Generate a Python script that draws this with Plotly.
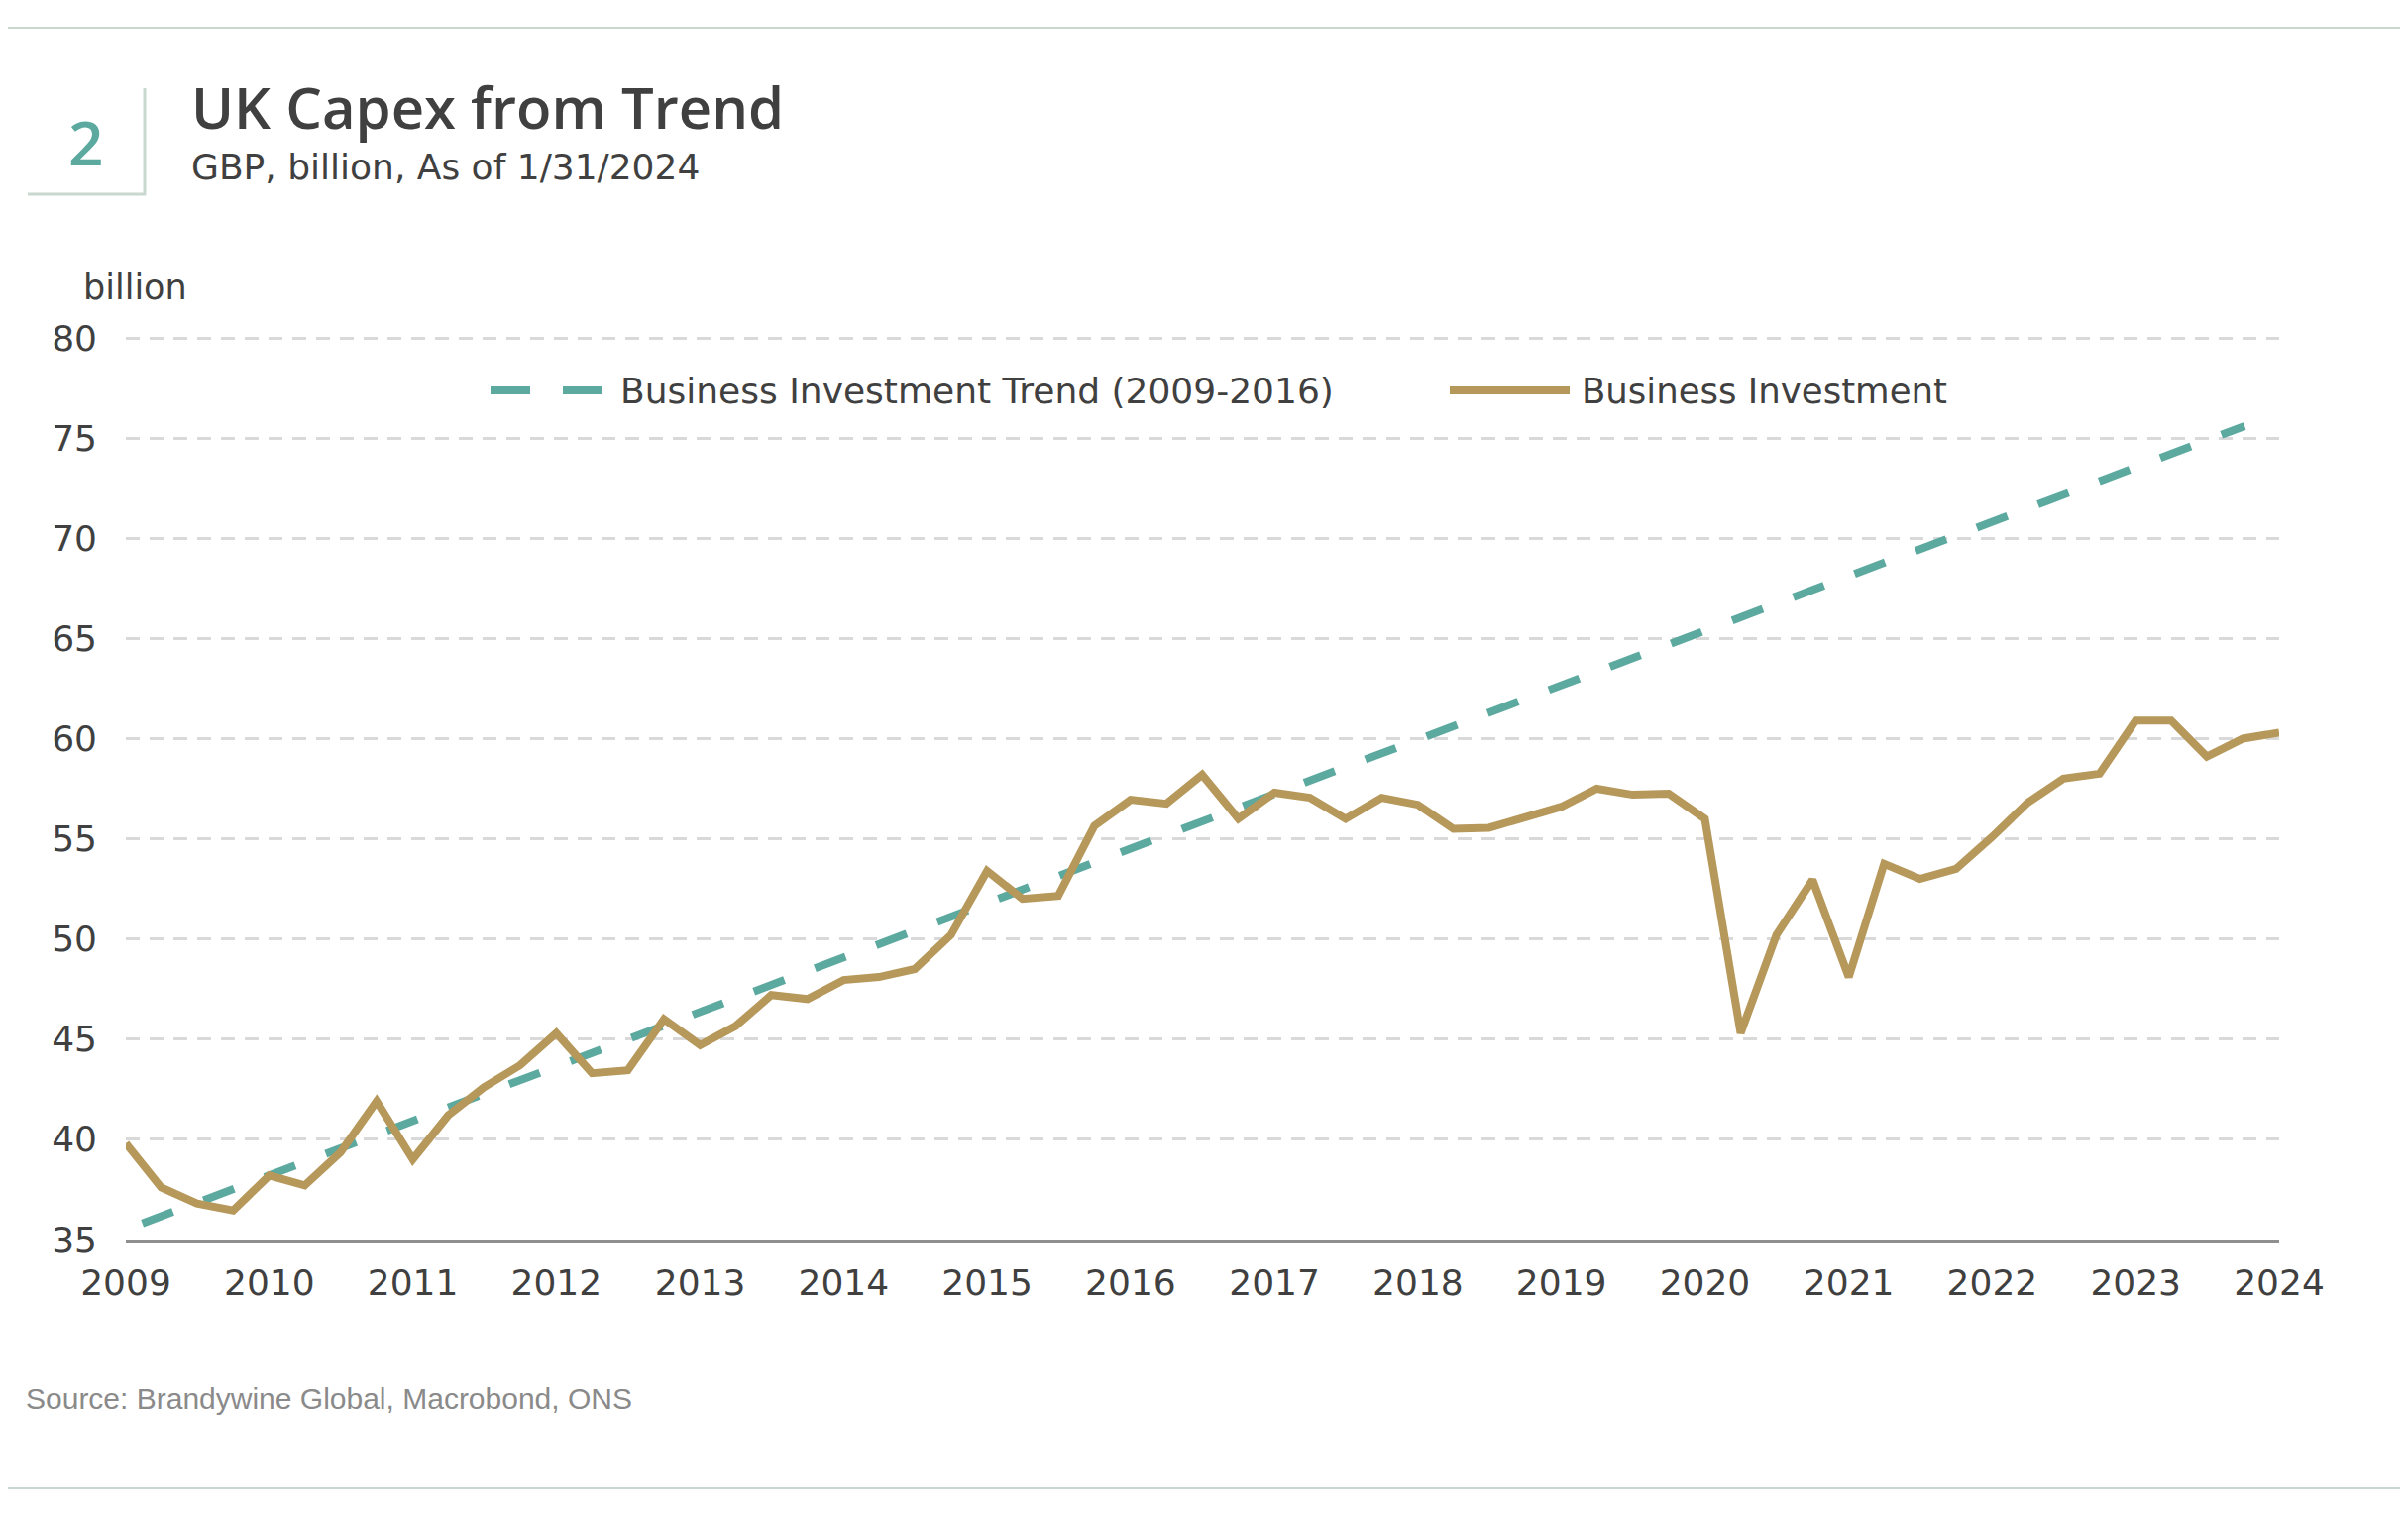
import plotly.graph_objects as go
import pandas as pd

# ---------------- data ----------------
quarters = pd.date_range("2009-01-01", "2024-01-01", freq="QS").strftime("%Y-%m-%d").tolist()
business_investment = [
    39.8, 37.6, 36.8, 36.45,
    38.2, 37.7, 39.35, 41.9,
    39.0, 41.2, 42.6, 43.7,
    45.3, 43.3, 43.45, 46.0,
    44.7, 45.65, 47.2, 47.0,
    47.95, 48.1, 48.5, 50.2,
    53.4, 52.0, 52.15, 55.65,
    56.95, 56.75, 58.2, 56.0,
    57.3, 57.05, 56.0, 57.05,
    56.7, 55.5, 55.55, 56.05,
    56.6, 57.5, 57.2, 57.25,
    56.0, 45.3, 50.2, 52.95,
    48.1, 53.75, 53.0, 53.5,
    55.1, 56.8, 58.0, 58.25,
    60.9, 60.9, 59.1, 60.0,
    60.3,
]
trend_dates = ["2009-02-12", "2023-10-05"]
trend_values = [35.8, 75.6]

year_labels = [str(y) for y in range(2009, 2025)]
year_ticks = [f"{y}-01-01" for y in year_labels]
y_ticks = [35, 40, 45, 50, 55, 60, 65, 70, 75, 80]

TEAL = "#5ca99f"
GOLD = "#b6985b"
TEXT = "#404040"
FRAME = "#c9d8cf"
FONT = "DejaVu Sans"
TITLE_FONT = "Open Sans"

# ---------------- layout geometry (reference pixels) ----------------
W, H = 2430, 1528
L, R, T, B = 127, 2300, 339, 1251   # T includes 2px headroom above the 80 line
Y_MIN, Y_MAX = 35, 80.1
OFF = 8  # page body margin


def px(x):
    return (x - L) / (R - L)


def py(y):
    return (B - y) / (B - T)


fig = go.Figure()
fig.add_trace(go.Scatter(
    x=trend_dates, y=trend_values, mode="lines",
    name="Business Investment Trend (2009-2016)",
    line=dict(color=TEAL, width=8, dash="33px,33px"),
    showlegend=False,
))
fig.add_trace(go.Scatter(
    x=quarters, y=business_investment, mode="lines",
    name="Business Investment",
    line=dict(color=GOLD, width=8),
    showlegend=False,
))

shapes = [
    # top & bottom rules
    dict(type="line", xref="paper", yref="paper", x0=px(0), x1=px(W), y0=py(28), y1=py(28),
         line=dict(color=FRAME, width=2)),
    dict(type="line", xref="paper", yref="paper", x0=px(0), x1=px(W), y0=py(1502), y1=py(1502),
         line=dict(color=FRAME, width=2)),
    # number bracket
    dict(type="line", xref="paper", yref="paper", x0=px(146), x1=px(146), y0=py(89), y1=py(197),
         line=dict(color=FRAME, width=3)),
    dict(type="line", xref="paper", yref="paper", x0=px(28), x1=px(147), y0=py(196), y1=py(196),
         line=dict(color=FRAME, width=3)),
    # legend samples
    dict(type="line", xref="paper", yref="paper", x0=px(495), x1=px(608), y0=py(394), y1=py(394),
         line=dict(color=TEAL, width=8, dash="40px,33px")),
    dict(type="line", xref="paper", yref="paper", x0=px(1463), x1=px(1584), y0=py(394), y1=py(394),
         line=dict(color=GOLD, width=8)),
]

annotations = [
    dict(text="2", x=px(86), y=py(143), xanchor="center", yanchor="middle",
         font=dict(family=TITLE_FONT, size=62, color=TEAL, weight=600)),
    dict(text="UK Capex from Trend", x=px(191), y=py(108), xanchor="left", yanchor="middle",
         font=dict(family=TITLE_FONT, size=58, color=TEXT, weight=600)),
    dict(text="GBP, billion, As of 1/31/2024", x=px(191), y=py(168), xanchor="left", yanchor="middle",
         font=dict(family=FONT, size=36, color=TEXT)),
    dict(text="billion", x=px(82), y=py(290), xanchor="left", yanchor="middle",
         font=dict(family=FONT, size=35, color=TEXT)),
    dict(text="Business Investment Trend (2009-2016)", x=px(624), y=py(394), xanchor="left",
         yanchor="middle", font=dict(family=FONT, size=36, color=TEXT)),
    dict(text="Business Investment", x=px(1594), y=py(394), xanchor="left",
         yanchor="middle", font=dict(family=FONT, size=35.5, color=TEXT)),
    dict(text="Source: Brandywine Global, Macrobond, ONS", x=px(24), y=py(1411), xanchor="left",
         yanchor="middle",
         font=dict(family="Liberation Sans, Arial, sans-serif", size=30, color="#8a8a8a")),
]
for a in annotations:
    a.update(xref="paper", yref="paper", showarrow=False)

fig.update_layout(
    width=W - OFF, height=H - OFF,
    margin=dict(l=L - OFF, r=W - R, t=T - OFF, b=H - B, pad=0),
    paper_bgcolor="white", plot_bgcolor="white",
    font=dict(family=FONT, size=35, color=TEXT),
    showlegend=False,
    shapes=shapes,
    annotations=annotations,
    xaxis=dict(
        type="date", range=["2009-01-01", "2024-01-01"],
        tickvals=year_ticks, ticktext=year_labels,
        showgrid=False, zeroline=False,
        showline=True, linecolor="#8f8f8f", linewidth=3,
        ticks="", ticklabelstandoff=10,
        tickfont=dict(family=FONT, size=36, color=TEXT),
    ),
    yaxis=dict(
        range=[Y_MIN, Y_MAX], tickvals=y_ticks,
        showgrid=True, gridcolor="#d9d9d9", gridwidth=3, griddash="14px,10px",
        zeroline=False, showline=False,
        ticks="", ticklabelstandoff=28,
        tickfont=dict(family=FONT, size=36, color=TEXT),
    ),
)

fig.write_html("out.html")
